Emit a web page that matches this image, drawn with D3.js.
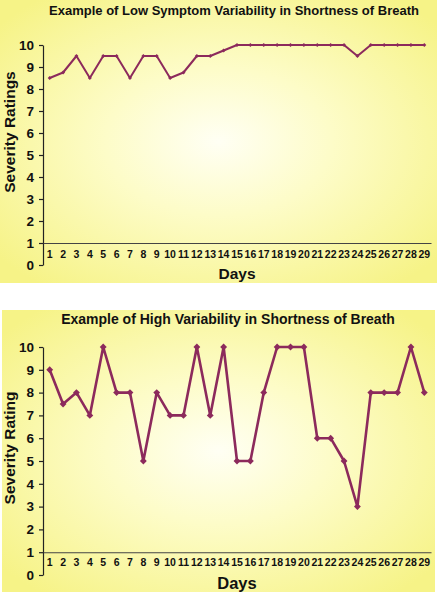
<!DOCTYPE html>
<html>
<head>
<meta charset="utf-8">
<script src="https://cdn.jsdelivr.net/npm/d3@7"></script>
<style>
  body { margin: 0; background: #fff; }
  svg { display: block; font-family: Arial, "Liberation Sans", sans-serif; }
</style>
</head>
<body>
<svg id="chart" width="438" height="593"></svg>
<script>
// days 1..29, both charts share them
const days = d3.range(1, 30);
const yTicks = d3.range(0, 11);

// low variability (top)
const lowValues = [8.5, 8.75, 9.5, 8.5, 9.5, 9.5, 8.5, 9.5, 9.5, 8.5, 8.75, 9.5, 9.5, 9.75, 10,
    10, 10, 10, 10, 10, 10, 10, 10, 9.5, 10, 10, 10, 10, 10];
// high variability (bottom)
const highValues = [9, 7.5, 8, 7, 10, 8, 8, 5, 8, 7, 7, 10, 7, 10, 5,
    5, 8, 10, 10, 10, 6, 6, 5, 3, 8, 8, 8, 10, 8];

const lineColor = '#8c2a5c';
const svg = d3.select('#chart');

// yellow background with lighter middle
const grad = svg.append('defs').append('radialGradient')
    .attr('id', 'bg').attr('cx', '50%').attr('cy', '50%').attr('r', '65%');
grad.append('stop').attr('offset', '0%').attr('stop-color', '#fffff4');
grad.append('stop').attr('offset', '40%').attr('stop-color', '#fdfcc8');
grad.append('stop').attr('offset', '100%').attr('stop-color', '#f6f387');

function drawChart(cfg) {
    const g = svg.append('g');
    g.append('rect')
        .attr('x', cfg.box[0]).attr('y', cfg.box[1])
        .attr('width', cfg.box[2]).attr('height', cfg.box[3])
        .attr('fill', 'url(#bg)');

    const x = d3.scaleBand().domain(days).range([cfg.left, cfg.right]);
    const y = d3.scaleLinear().domain([0, 10]).range([cfg.bottom, cfg.top]);

    // y axis
    const yAxis = g.append('g')
        .attr('transform', `translate(${cfg.left},0)`)
        .call(d3.axisLeft(y).tickValues(yTicks).tickSize(4).tickSizeOuter(0).tickPadding(5));
    yAxis.select('.domain').attr('stroke', '#222').attr('stroke-width', 1.2);
    yAxis.selectAll('.tick line').attr('stroke', '#222').attr('stroke-width', 1.2);
    yAxis.selectAll('text')
        .attr('fill', '#111')
        .style('font-size', '13.5px')
        .style('font-weight', 'bold');

    // x axis crosses at 1
    const xAxis = g.append('g')
        .attr('transform', `translate(0,${y(1)})`)
        .call(d3.axisBottom(x).tickSize(0).tickPadding(cfg.xPad));
    xAxis.select('.domain').attr('stroke', '#444').attr('stroke-width', 1.1);
    xAxis.selectAll('text')
        .attr('fill', '#111')
        .style('font-family', '"Liberation Sans Narrow", "Arial Narrow", Arial, sans-serif')
        .style('font-size', '10.5px')
        .style('font-weight', 'bold');

    const line = d3.line()
        .x((d, i) => x(days[i]) + x.bandwidth() / 2)
        .y((d) => y(d));

    g.append('path')
        .attr('d', line(cfg.values))
        .attr('fill', 'none')
        .attr('stroke', lineColor)
        .attr('stroke-width', cfg.lineWidth)
        .attr('stroke-linejoin', 'round');

    g.selectAll('.pt')
        .data(cfg.values)
        .join('path')
        .attr('class', 'pt')
        .attr('transform', (d, i) => `translate(${x(days[i]) + x.bandwidth() / 2},${y(d)})`)
        .attr('d', d3.symbol(d3.symbolDiamond2, cfg.markerSize))
        .attr('fill', lineColor);

    // titles
    g.append('text')
        .attr('x', cfg.titleX).attr('y', cfg.titleY)
        .attr('text-anchor', 'middle')
        .style('font-size', cfg.titleSize)
        .style('font-weight', 'bold')
        .attr('fill', '#111')
        .text(cfg.title);

    g.append('text')
        .attr('x', (cfg.left + cfg.right) / 2).attr('y', cfg.daysY)
        .attr('text-anchor', 'middle')
        .style('font-size', cfg.daysSize)
        .style('font-weight', 'bold')
        .attr('fill', '#111')
        .text('Days');

    g.append('text')
        .attr('transform', `translate(${cfg.yLabelX},${cfg.yLabelY}) rotate(-90)`)
        .attr('text-anchor', 'middle')
        .style('font-size', '15.5px')
        .style('font-weight', 'bold')
        .attr('fill', '#111')
        .text(cfg.yLabel);
}

drawChart({
    box: [0, 0, 437, 283],
    left: 43, right: 431, top: 45, bottom: 265,
    xPad: 8,
    values: lowValues,
    lineWidth: 2,
    markerSize: 10,
    title: 'Example of Low Symptom Variability in Shortness of Breath',
    titleX: 234, titleY: 15, titleSize: '13px',
    daysY: 279, daysSize: '15.5px',
    yLabel: 'Severity Ratings', yLabelX: 15, yLabelY: 132
});

drawChart({
    box: [2, 310, 433, 282],
    left: 43, right: 431, top: 347, bottom: 575,
    xPad: 6,
    values: highValues,
    lineWidth: 2.6,
    markerSize: 30,
    title: 'Example of High Variability in Shortness of Breath',
    titleX: 228, titleY: 324, titleSize: '14px',
    daysY: 589, daysSize: '16.5px',
    yLabel: 'Severity Rating', yLabelX: 15, yLabelY: 448
});
</script>
</body>
</html>
